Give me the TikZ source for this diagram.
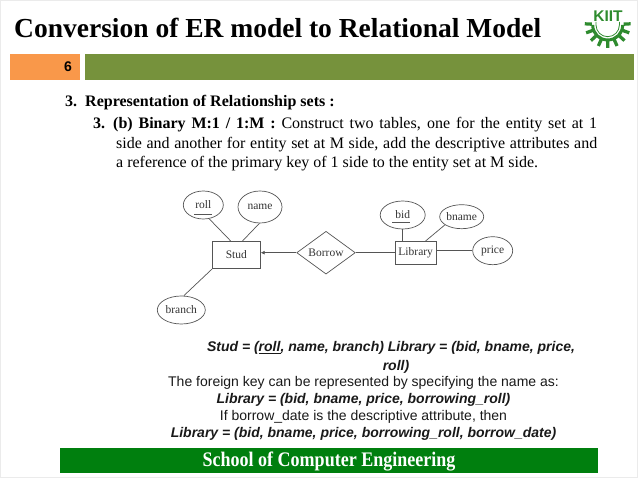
\documentclass[tikz,border=0pt]{standalone}
\usepackage{fontspec}
\setmainfont{Liberation Serif}
\setsansfont{Liberation Sans}
\usetikzlibrary{shapes.geometric,arrows.meta,calc}
\definecolor{orangeband}{HTML}{F9984A}
\definecolor{oliveband}{HTML}{76923C}
\definecolor{footband}{HTML}{007F0E}
\definecolor{kiit}{HTML}{2E8B2E}
\definecolor{erline}{HTML}{555555}
\definecolor{ertext}{HTML}{333333}
\tikzset{
  x=1pt,y=-1pt,
  attr/.style={draw=erline,ellipse,inner sep=0pt,line width=.7pt,text=ertext,font=\fontsize{11.5}{12}\selectfont},
  ent/.style={draw=erline,rectangle,inner sep=0pt,line width=.7pt,text=ertext,font=\fontsize{11.5}{12}\selectfont},
  rel/.style={draw=erline,diamond,inner sep=0pt,line width=.7pt,text=ertext,font=\fontsize{11.5}{12}\selectfont},
  conn/.style={draw=erline,line width=.7pt},
  body/.style={anchor=base west,inner sep=0pt,font=\fontsize{16}{18}\selectfont},
  note/.style={anchor=base,inner sep=0pt,font=\sffamily\fontsize{14}{16}\selectfont,text=black!90},
  noteb/.style={note,font=\sffamily\bfseries\itshape\fontsize{14}{16}\selectfont},
  band/.style={inner sep=0pt,minimum height=26pt},
}
\begin{document}
\begin{tikzpicture}
\useasboundingbox (0,0) rectangle (638,478);
\draw[black!8,line width=.8pt] (0.4,0.4) rectangle (637.6,477.6);
% header
\node[anchor=base west,inner sep=0pt,font=\bfseries\fontsize{27.5}{30}\selectfont] (title) at (14,38) {Conversion of ER model to Relational Model};
\node[band,fill=orangeband,anchor=north west,minimum width=70pt] (num) at (10,53.5) {};
\node[anchor=base,inner sep=0pt,font=\sffamily\bfseries\fontsize{14}{16}\selectfont] (numt) at (68,72) {6};
\node[band,fill=oliveband,anchor=north west,minimum width=549pt] (bar) at (84.5,53.5) {};
% logo
\foreach \a in {-3,20,43,66,90,114,137,160,183}{
  \fill[kiit] ($(607.7,25)+({\a+6}:16)$) -- ($(607.7,25)+({\a+4}:23)$) -- ($(607.7,25)+({\a-4}:23)$) -- ($(607.7,25)+({\a-6}:16)$) -- cycle;
}
\fill[kiit] (591.2,25) arc[start angle=180,end angle=0,radius=16.5] -- (621.2,25) arc[start angle=0,end angle=180,radius=13.5] -- cycle;
\draw[kiit,line width=.8pt] (596,22) -- (596,25) arc[start angle=180,end angle=0,radius=11.7] -- (619.4,22);
\node[inner sep=0pt,text=kiit,font=\sffamily\bfseries\fontsize{15.5}{16}\selectfont] (logo) at (608,16.5) {KIIT};
% body
\node[body,font=\bfseries\fontsize{16}{18}\selectfont] (h1) at (65,107) {\hbox to 268pt{3.\hspace{8pt}Representation of Relationship sets :\hss}};
\node[body] (l1) at (93,129) {\hbox to 504pt{\textbf{3.\hspace{8pt}(b) Binary M:1 / 1:M :} Construct two tables, one for the entity set at 1}};
\node[body] (l2) at (116,149) {\hbox to 481pt{side and another for entity set at M side, add the descriptive attributes and}};
\node[body] (l3) at (116,168) {\hbox to 422pt{a reference of the primary key of 1 side to the entity set at M side.}};
% ER diagram
\node[ent,minimum width=48pt,minimum height=27.5pt] (stud) at (236.3,255) {Stud};
\node[rel,minimum width=58.6pt,minimum height=41.3pt] (borrow) at (326,252.7) {Borrow};
\node[ent,minimum width=40.7pt,minimum height=23pt] (library) at (415.7,252.8) {Library};
\node[attr,minimum width=40pt,minimum height=28pt] (roll) at (203.3,205) {roll};
\node[attr,minimum width=44pt,minimum height=32pt] (name) at (260,207) {name};
\node[attr,minimum width=48pt,minimum height=28pt] (branch) at (181.3,310) {branch};
\node[attr,minimum width=45pt,minimum height=28pt] (bid) at (402.7,215) {bid};
\node[attr,minimum width=44pt,minimum height=24pt] (bname) at (461.7,216.7) {bname};
\node[attr,minimum width=40pt,minimum height=28pt] (price) at (492.7,250.7) {price};
\draw[conn] (194,214) -- (212,214);
\draw[conn] (392,222.7) -- (410,222.7);
\draw[conn] (roll.-67) -- (stud.112);
\draw[conn] (name.-92) -- (stud.66);
\draw[conn] (branch.80) -- (stud.south west);
\draw[conn,-{Latex[length=4pt,width=4pt]}] (borrow.west) -- (borrow.west -| stud.east);
\draw[conn] (borrow.east) -- (borrow.east -| library.west);
\draw[conn] (bid.south) -- (bid.south |- library.north);
\draw[conn] (bname.-154) -- (library.50);
\draw[conn] (price.west) -- (price.west -| library.east);
% notes
\node[noteb] (n1) at (391,352) {Stud = (\underline{roll}, name, branch) Library = (bid, bname, price,};
\node[noteb] (n2) at (396,370.5) {roll)};
\node[note] (n3) at (363.5,387) {The foreign key can be represented by specifying the name as:};
\node[noteb] (n4) at (363.5,403.5) {Library = (bid, bname, price, borrowing\_roll)};
\node[note] (n5) at (363.5,420.5) {If borrow\_date is the descriptive attribute, then};
\node[noteb] (n6) at (363.5,437.5) {Library = (bid, bname, price, borrowing\_roll, borrow\_date)};
% footer
\node[fill=footband,inner sep=0pt,anchor=north west,minimum width=538pt,minimum height=25pt] (foot) at (60,448) {};
\node[text=white,inner sep=0pt,xscale=.87,font=\bfseries\fontsize{20.7}{22}\selectfont] (foott) at (329,461) {School of Computer Engineering};
\end{tikzpicture}
\end{document}
